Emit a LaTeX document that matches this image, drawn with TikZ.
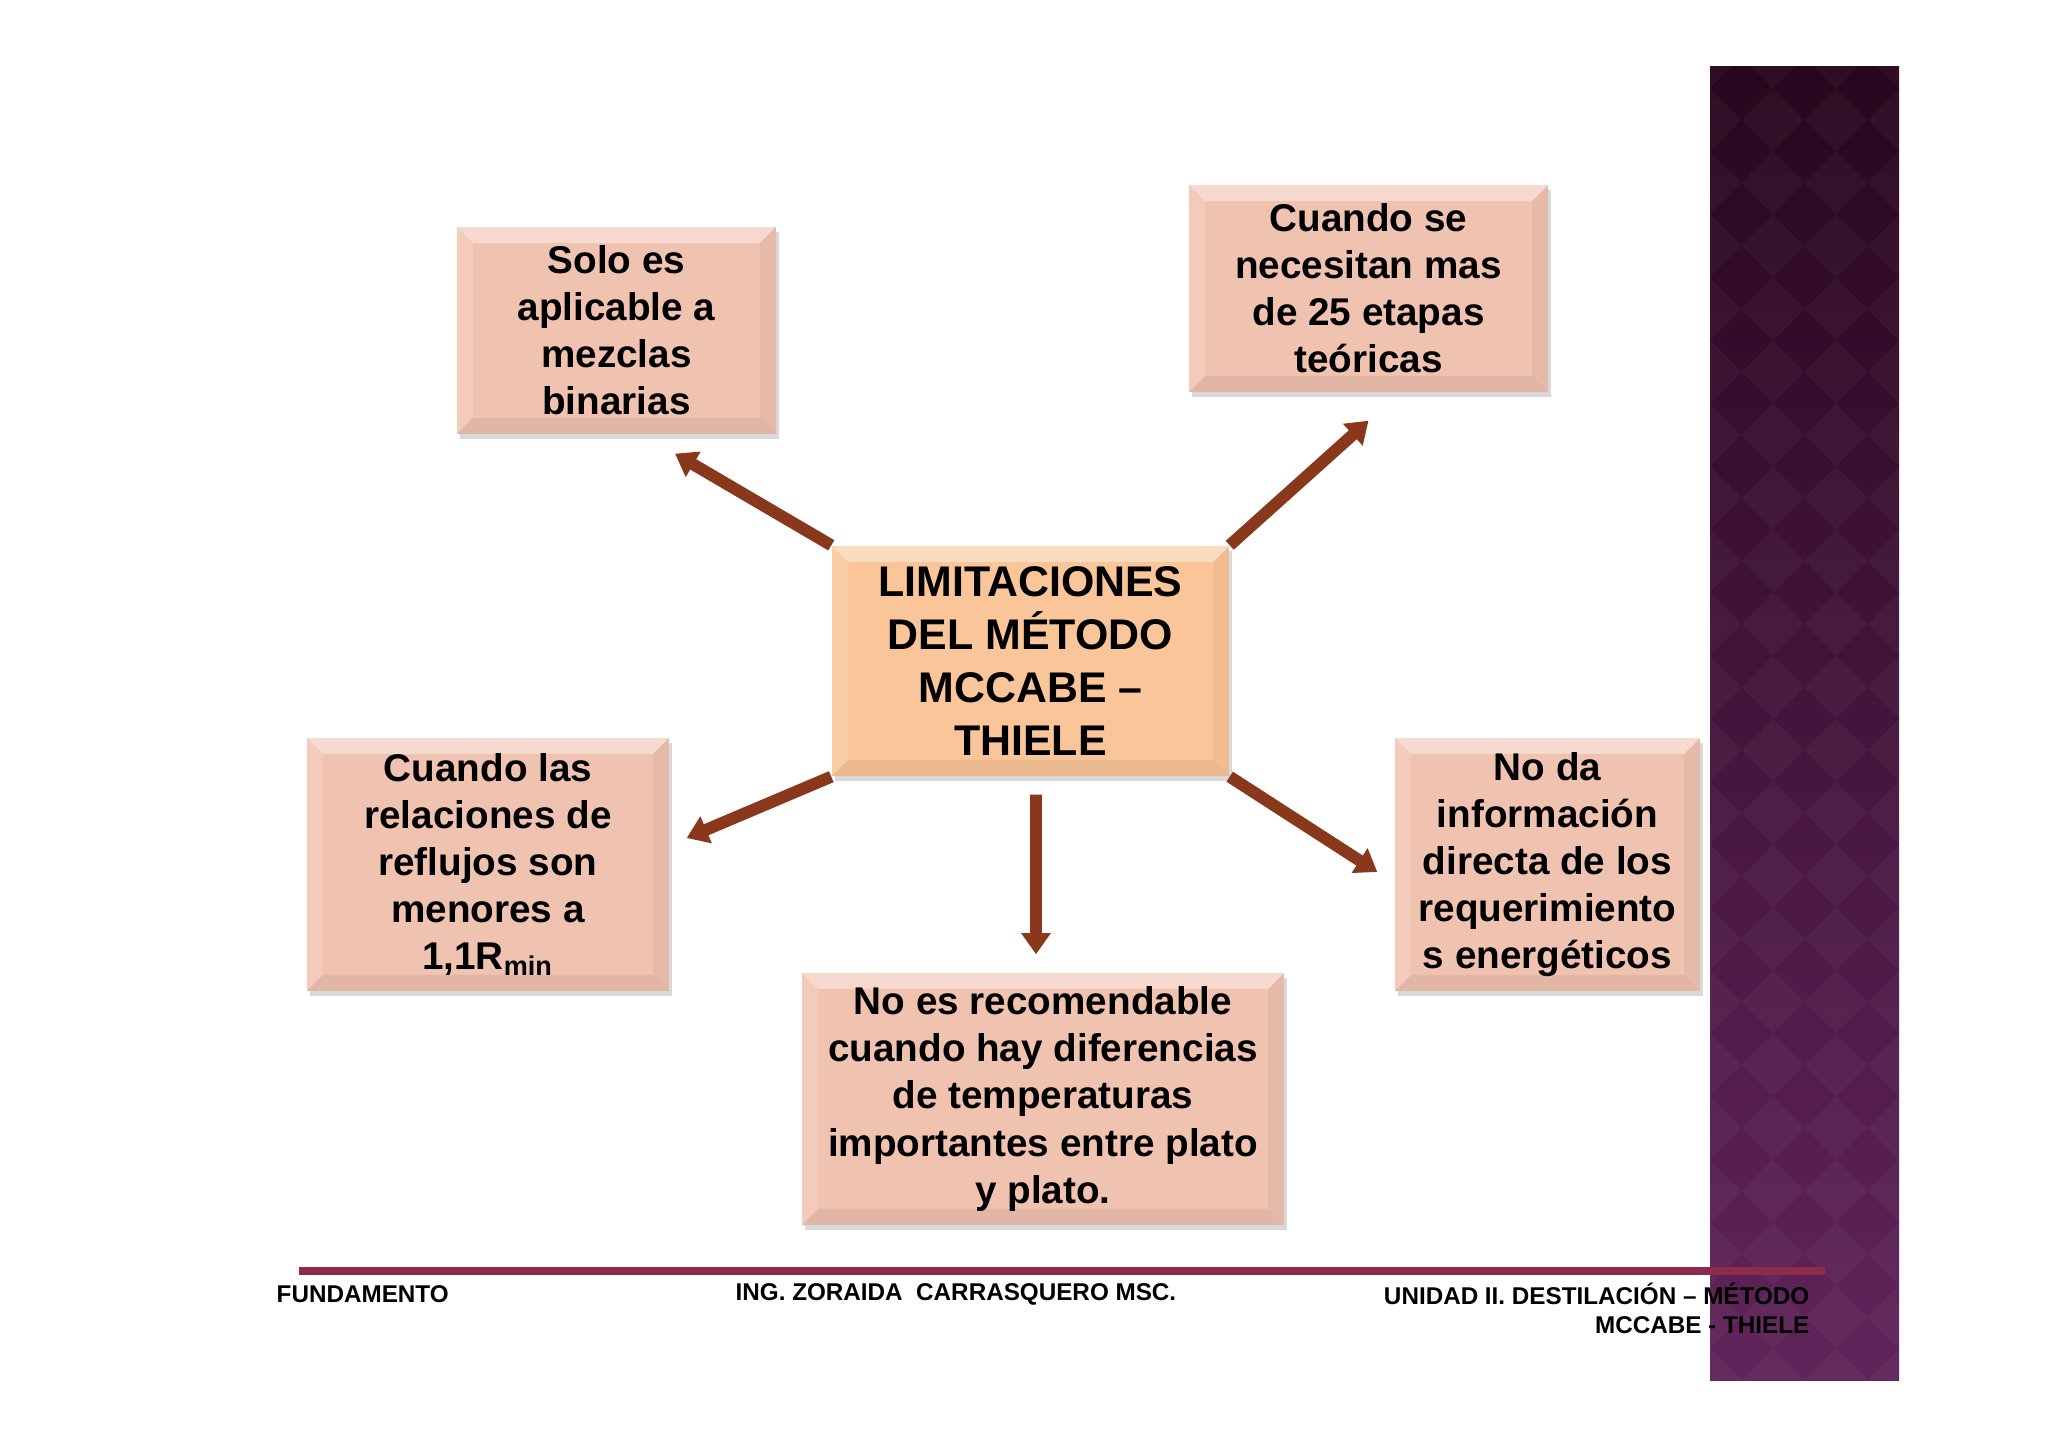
\documentclass[tikz,border=0pt]{standalone}
\usepackage{fontspec}
\setmainfont{Liberation Sans}
\usetikzlibrary{arrows.meta, shadows}

\definecolor{boxpink}{RGB}{240,194,176}
\definecolor{boxpeach}{RGB}{250,197,152}
\definecolor{arrowbrown}{RGB}{138,56,28}
\definecolor{bartop}{RGB}{40,6,30}
\definecolor{barbottom}{RGB}{96,36,90}
\definecolor{footline}{RGB}{142,42,76}

\begin{document}
\begin{tikzpicture}[
    >=Stealth,
    bevel/.style={path picture={
        \fill[white, opacity=0.4] (path picture bounding box.north west) -- (path picture bounding box.north east)
            -- ([shift={(-0.16,-0.16)}]path picture bounding box.north east) -- ([shift={(0.16,-0.16)}]path picture bounding box.north west) -- cycle;
        \fill[white, opacity=0.15] (path picture bounding box.north west) -- (path picture bounding box.south west)
            -- ([shift={(0.16,0.16)}]path picture bounding box.south west) -- ([shift={(0.16,-0.16)}]path picture bounding box.north west) -- cycle;
        \fill[black, opacity=0.04] (path picture bounding box.north east) -- (path picture bounding box.south east)
            -- ([shift={(-0.16,0.16)}]path picture bounding box.south east) -- ([shift={(-0.16,-0.16)}]path picture bounding box.north east) -- cycle;
        \fill[black, opacity=0.06] (path picture bounding box.south west) -- (path picture bounding box.south east)
            -- ([shift={(-0.16,0.16)}]path picture bounding box.south east) -- ([shift={(0.16,0.16)}]path picture bounding box.south west) -- cycle;
    }},
    limbox/.style={rectangle, fill=boxpink, bevel, align=center,
                   drop shadow={opacity=0.3, shadow xshift=0.03, shadow yshift=-0.05},
                   font=\bfseries\fontsize{11}{13.4}\selectfont},
    limarrow/.style={draw=arrowbrown, line width=3.4pt, -{Triangle[width=8pt, length=6pt]}},
    footer/.style={font=\bfseries\fontsize{6.9}{8.2}\selectfont, inner sep=0pt}
]
\useasboundingbox (0,0) rectangle (20.48,14.48);

% side bar
\shade[top color=bartop, bottom color=barbottom] (17.10,0.68) rectangle (18.99,13.81);
\begin{scope}
    \clip (17.10,0.68) rectangle (18.99,13.81);
    \foreach \i in {0,...,3}
        \foreach \j in {0,...,21}
            \fill[white, opacity=0.035] (17.10+0.63*\i, 0.68+0.63*\j)
                +(0,0.315) -- +(0.315,0) -- +(0,-0.315) -- +(-0.315,0) -- cycle;
\end{scope}

% boxes
\node[limbox, fill=boxpeach, minimum width=3.97cm, minimum height=2.30cm,
      font=\bfseries\fontsize{12.2}{15}\selectfont] (limit) at (10.305,7.87)
    {LIMITACIONES\\DEL MÉTODO\\MCCABE –\\THIELE};
\node[limbox, minimum width=3.19cm, minimum height=2.07cm] (solo) at (6.165,11.175)
    {Solo es\\aplicable a\\mezclas\\binarias};
\node[limbox, minimum width=3.59cm, minimum height=2.07cm] (etapas) at (13.685,11.595)
    {Cuando se\\necesitan mas\\de 25 etapas\\teóricas};
\node[limbox, minimum width=3.62cm, minimum height=2.53cm] (reflujo) at (4.88,5.835)
    {Cuando las\\relaciones de\\reflujos son\\menores a\\1,1R\textsubscript{min}};
\node[limbox, minimum width=3.05cm, minimum height=2.53cm] (energia) at (15.475,5.835)
    {No da\\información\\directa de los\\requerimiento\\s energéticos};
\node[limbox, minimum width=4.82cm, minimum height=2.52cm] (temper) at (10.43,3.49)
    {No es recomendable\\cuando hay diferencias\\de temperaturas\\importantes entre plato\\y plato.};

% arrows
\draw[limarrow] (limit.north west) -- ([xshift=0.585cm, yshift=-0.19cm]solo.south);
\draw[limarrow] (limit.north east) -- ([yshift=-0.28cm]etapas.south);
\draw[limarrow] (limit.south west) -- ([xshift=0.17cm, yshift=0.265cm]reflujo.east);
\draw[limarrow] ([xshift=0.055cm, yshift=-0.18cm]limit.south) -- ([xshift=-0.07cm, yshift=0.18cm]temper.north);
\draw[limarrow] (limit.south east) -- ([xshift=-0.17cm, yshift=-0.075cm]energia.west);

% footer
\draw[footline, line width=2pt] (2.99,1.77) -- (18.25,1.77);
\node[footer, anchor=west] (fund) at (2.76,1.54) {FUNDAMENTO};
\node[footer, anchor=west] (autor) at (7.35,1.54) {ING. ZORAIDA\ \ CARRASQUERO MSC.};
\node[footer, anchor=east, align=right] (unidad) at (18.10,1.395)
    {UNIDAD II. DESTILACIÓN – MÉTODO\\MCCABE - THIELE};
\end{tikzpicture}
\end{document}
